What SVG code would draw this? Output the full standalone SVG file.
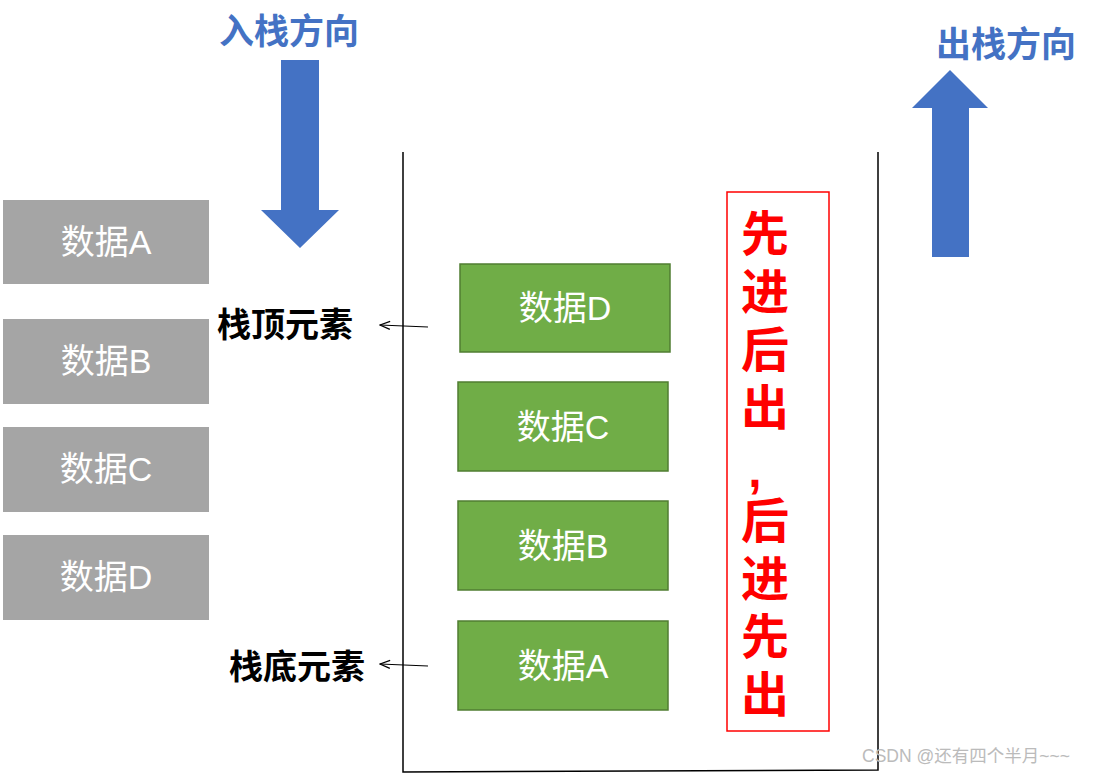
<svg xmlns="http://www.w3.org/2000/svg" width="1104" height="774" viewBox="0 0 1104 774">
<style>
.g{fill:#a5a5a5}
.gr{fill:#70ad47;stroke:#507e32;stroke-width:1.5}
.t{font-family:"Liberation Sans","Noto Sans CJK SC",sans-serif;font-size:34px;fill:#fff;text-anchor:middle}
.b{font-family:"Liberation Sans","Noto Sans CJK SC",sans-serif;font-weight:bold;font-size:35px;fill:#4472c4;text-anchor:middle}
.k{font-family:"Liberation Sans","Noto Sans CJK SC",sans-serif;font-weight:bold;font-size:34px;fill:#000}
.r{font-family:"Liberation Sans","Noto Sans CJK SC",sans-serif;font-weight:bold;font-size:48px;fill:#f00;text-anchor:middle}
</style>
<defs><marker id="a" markerWidth="12" markerHeight="10" refX="11" refY="5" orient="auto" markerUnits="userSpaceOnUse"><path d="M1,1 L11,5 L1,9" fill="none" stroke="#000" stroke-width="1.2"/></marker></defs>
<rect width="1104" height="774" fill="#fff"/>
<g id="titles"><text class="b" x="289" y="44">入栈方向</text><text class="b" x="1006" y="57">出栈方向</text></g>
<g id="arrows-big" fill="#4472c4">
<path d="M281,60 H319 V210 H339 L300,248 L261,210 H281 Z"/>
<path d="M950,70 L988,108 H969 V257 H932 V108 H912 Z"/>
</g>
<g id="left">
<rect class="g" x="3" y="200" width="206" height="84"/><text class="t" x="106" y="254">数据A</text>
<rect class="g" x="3" y="319" width="206" height="85"/><text class="t" x="106" y="373">数据B</text>
<rect class="g" x="3" y="427" width="206" height="85"/><text class="t" x="106" y="481">数据C</text>
<rect class="g" x="3" y="535" width="206" height="85"/><text class="t" x="106" y="589">数据D</text>
</g>
<g id="container" stroke="#000" stroke-width="1.5" fill="none"><path d="M403,152 V772 L878,770 V152"/></g>
<g id="stack">
<rect class="gr" x="460" y="264" width="210" height="88"/><text class="t" x="565" y="320">数据D</text>
<rect class="gr" x="458" y="382" width="210" height="89"/><text class="t" x="563" y="439">数据C</text>
<rect class="gr" x="458" y="501" width="210" height="89"/><text class="t" x="563" y="558">数据B</text>
<rect class="gr" x="458" y="621" width="210" height="89"/><text class="t" x="563" y="678">数据A</text>
</g>
<g id="labels"><text class="k" x="217" y="337">栈顶元素</text><text class="k" x="229" y="679">栈底元素</text></g>
<g id="connectors" stroke="#000" stroke-width="1.2"><line x1="428" y1="327" x2="380" y2="325" marker-end="url(#a)"/><line x1="428" y1="666" x2="380" y2="664" marker-end="url(#a)"/></g>
<g id="note"><rect x="727" y="192" width="102" height="539" fill="none" stroke="#f00" stroke-width="1.5"/>
<text class="r" x="765" y="251">先</text><text class="r" x="765" y="309">进</text><text class="r" x="765" y="367">后</text><text class="r" x="765" y="425">出</text><text class="r" x="755" y="487">,</text><text class="r" x="765" y="538">后</text><text class="r" x="765" y="596">进</text><text class="r" x="765" y="654">先</text><text class="r" x="765" y="712">出</text></g>
<text x="862" y="762" font-family="Liberation Sans,Noto Sans CJK SC,sans-serif" font-size="17.5" fill="#bbb">CSDN @还有四个半月~~~</text>
</svg>
